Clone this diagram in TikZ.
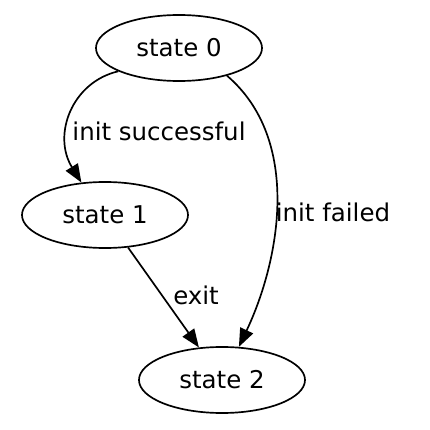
\documentclass[tikz,border=0pt]{standalone}
\usepackage{fontspec}
\setmainfont{DejaVu Sans}
\usetikzlibrary{arrows.meta,shapes.geometric}

\begin{document}
\begin{tikzpicture}[
    x=0.025cm, y=0.025cm,
    font=\fontsize{17.4}{20}\selectfont,
    snode/.style={ellipse,draw,line width=1.2pt,minimum width=4.15cm,minimum height=1.65cm,inner sep=0pt},
    tlabel/.style={inner sep=0pt},
    trans/.style={line width=1.2pt,-{Triangle[length=13pt,width=10pt]}},
  ]
  \useasboundingbox (0,0) rectangle (430,430);
  % states
  \node[snode] (s0) at (179,382) {state 0};
  \node[snode] (s1) at (105,215) {state 1};
  \node[snode] (s2) at (222,50) {state 2};
  % transitions
  \draw[trans] (s0.201) .. controls (72,348) and (52,295) .. (s1.126);
  \draw[trans] (s0.330) .. controls (302,290) and (280,170) .. (s2.63);
  \draw[trans] (s1) -- (s2);
  \node[tlabel] (l01) at (159,299) {init successful};
  \node[tlabel] (l02) at (333,218) {init failed};
  \node[tlabel] (l12) at (196,135) {exit};
\end{tikzpicture}
\end{document}
